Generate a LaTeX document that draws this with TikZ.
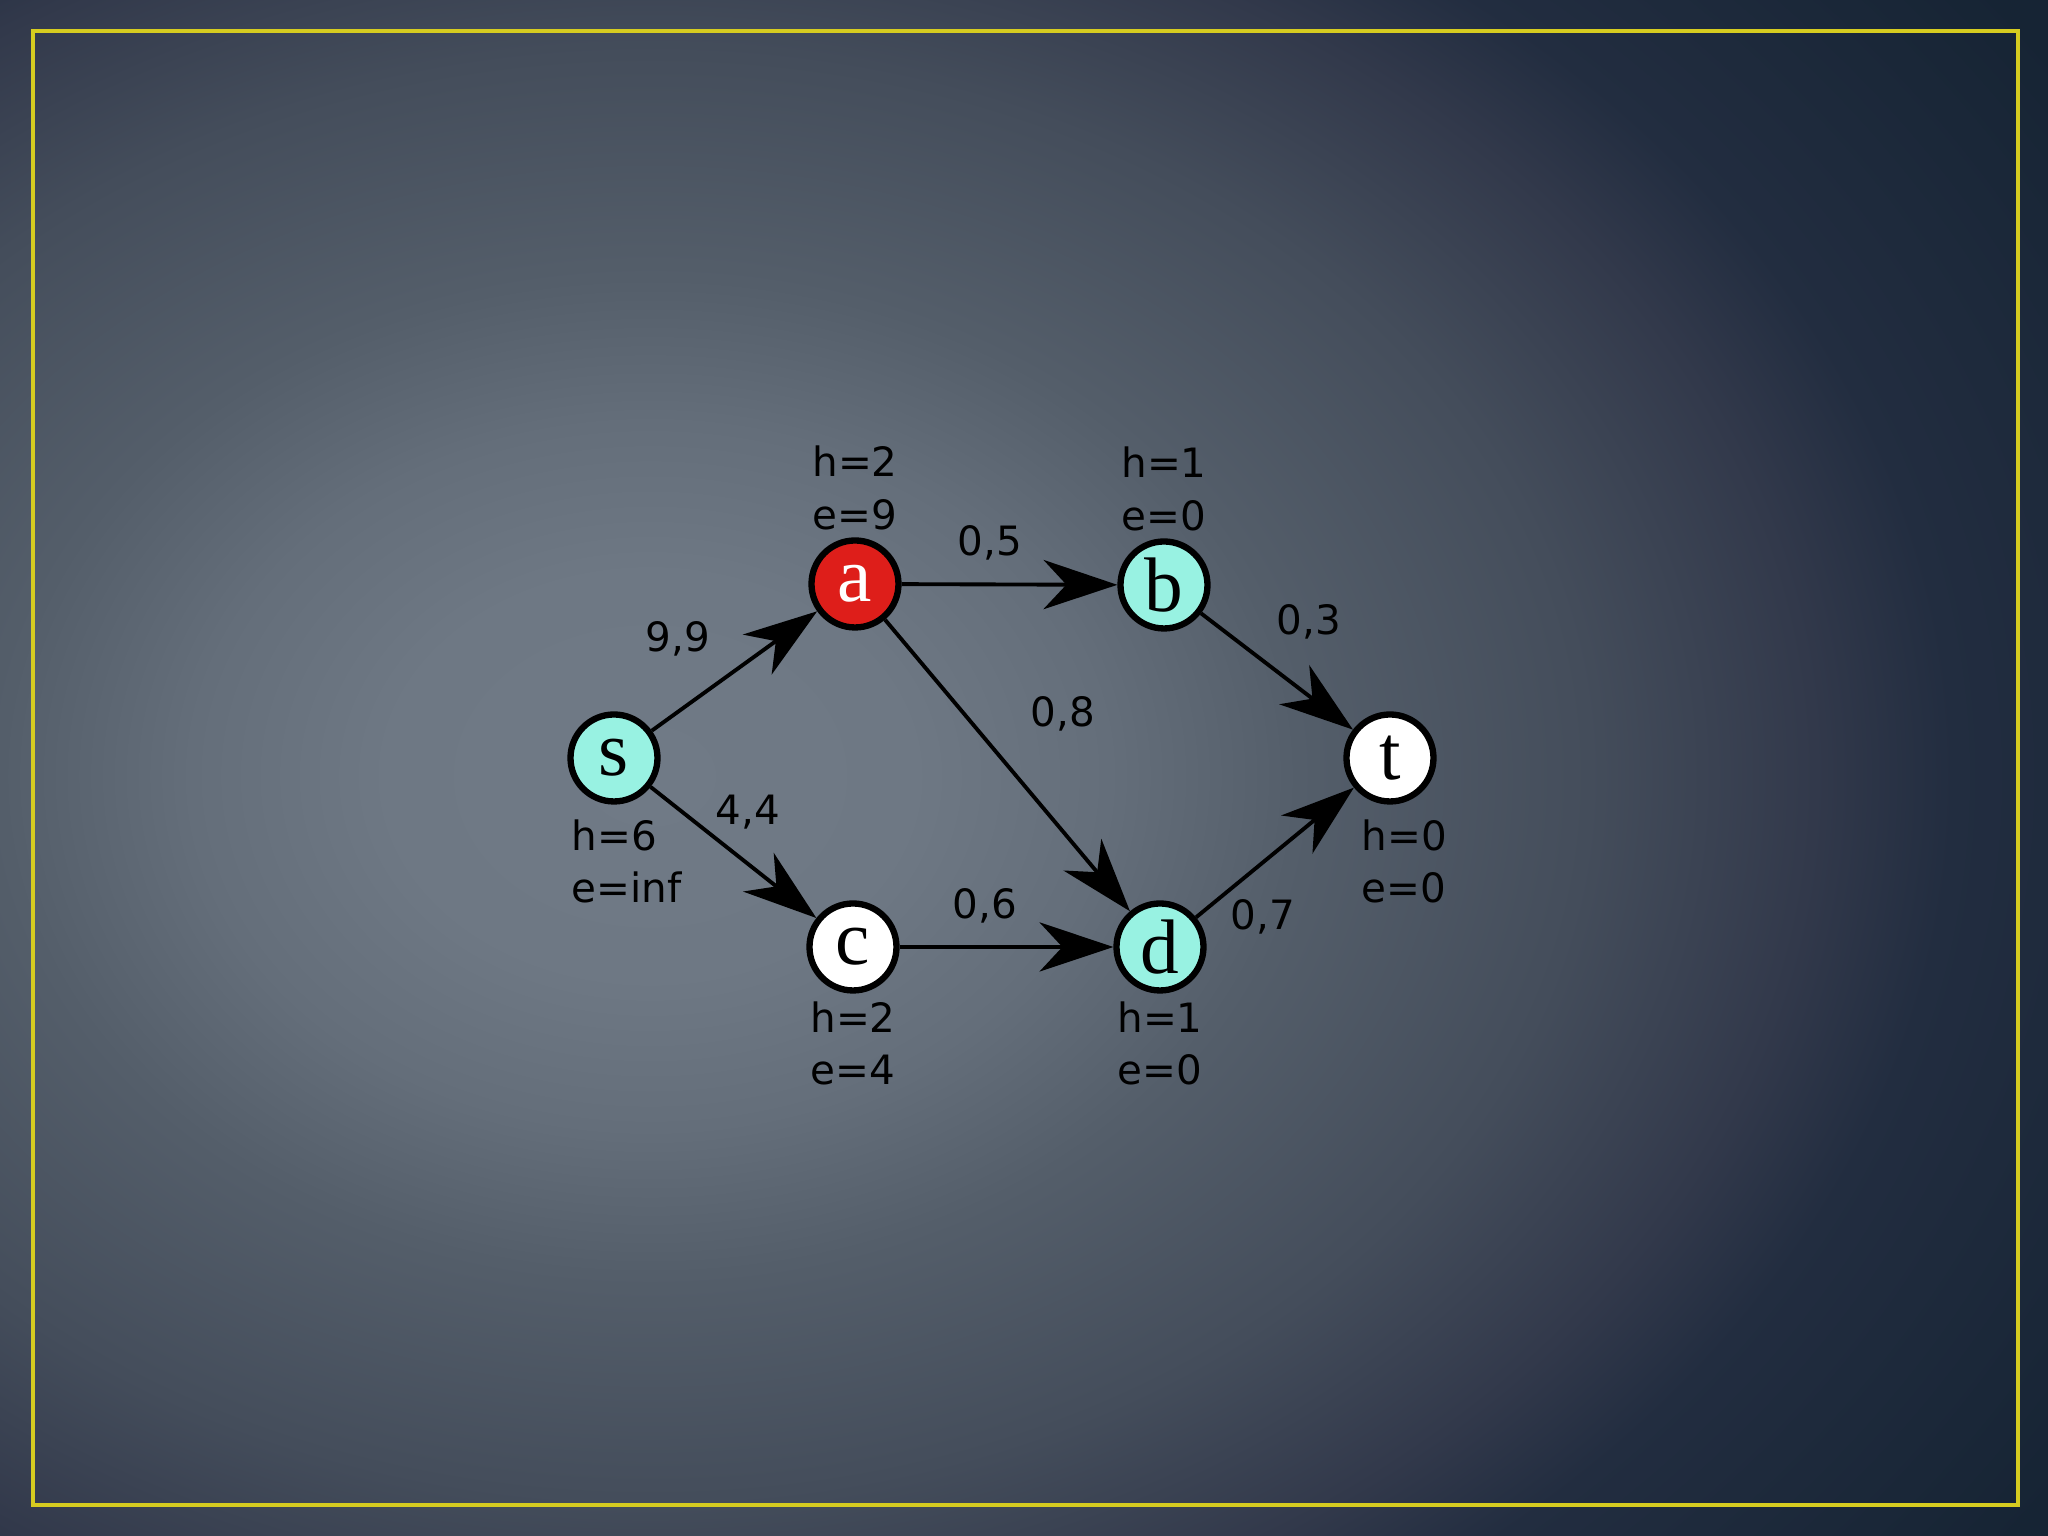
\documentclass[tikz,border=0pt]{standalone}
\usepackage{fontspec}
\setmainfont{DejaVu Sans}
\newfontfamily\letterfont{Liberation Serif}
\usetikzlibrary{arrows.meta,positioning}

\definecolor{bg0}{RGB}{112,122,134}
\definecolor{bg1}{RGB}{110,120,132}
\definecolor{bg2}{RGB}{100,110,122}
\definecolor{bg3}{RGB}{84,94,106}
\definecolor{bg4}{RGB}{68,77,91}
\definecolor{bg5}{RGB}{50,57,75}
\definecolor{bg6}{RGB}{34,45,64}
\definecolor{bg7}{RGB}{22,36,52}
\definecolor{frameyellow}{RGB}{214,204,32}
\definecolor{vcyan}{RGB}{152,242,226}
\definecolor{vred}{RGB}{222,30,26}

\pgfdeclareradialshading{slidebg}{\pgfpoint{0bp}{0bp}}{color(0bp)=(bg0); color(3.6bp)=(bg1); color(6.3bp)=(bg2); color(8.9bp)=(bg3); color(12.9bp)=(bg4); color(16bp)=(bg5); color(17.9bp)=(bg6); color(23.2bp)=(bg7); color(50bp)=(bg7)}

\begin{document}
\begin{tikzpicture}[
	vertex/.style={circle,draw=black,line width=1.8pt,minimum size=0.87cm,inner sep=0pt,font=\letterfont\fontsize{22}{22}\selectfont},
	info/.style={align=center,inner sep=2pt,font=\fontsize{11.5}{15}\selectfont},
	weight/.style={font=\fontsize{11.5}{13}\selectfont},
	flow/.style={line width=1.1pt,-{Stealth[length=21pt,width=14pt,inset=6.5pt]}}
	]

	\fill[bg7] (0,0) rectangle (20.48,15.36);
	\begin{scope}
		\clip (0,0) rectangle (20.48,15.36);
		\shade[shading=slidebg] (6.5,7.6) ellipse (18.2 and 14);
	\end{scope}
	\draw[frameyellow,line width=1.2pt] (0.33,0.31) rectangle (20.18,15.05);

	\node[vertex,fill=vcyan] (s) at (6.14,7.78) {s};
	\node[vertex,fill=vred,text=white] (a) at (8.55,9.52) {a};
	\node[vertex,fill=vcyan] (b) at (11.64,9.51) {b};
	\node[vertex,fill=white] (t) at (13.90,7.78) {t};
	\node[vertex,fill=white] (c) at (8.53,5.89) {c};
	\node[vertex,fill=vcyan] (d) at (11.60,5.89) {d};

	\node[info,above=0pt of a] (la) {h=2\\e=9};
	\node[info,above=0pt of b] (lb) {h=1\\e=0};
	\node[info,below=0pt of c] (lc) {h=2\\e=4};
	\node[info,below=0pt of d] (ld) {h=1\\e=0};
	\node[info,align=left,anchor=north west,xshift=-1pt,yshift=-2pt] (ls) at (s.west |- s.south) {h=6\\e=inf};
	\node[info,align=left,anchor=north west,xshift=3pt,yshift=-2pt] (lt) at (t.west |- t.south) {h=0\\e=0};

	\node[weight] (wsa) at (6.78,8.97) {9,9};
	\node[weight] (wsc) at (7.48,7.24) {4,4};
	\node[weight] (wab) at (9.90,9.93) {0,5};
	\node[weight] (wad) at (10.63,8.22) {0,8};
	\node[weight] (wbt) at (13.09,9.14) {0,3};
	\node[weight] (wcd) at (9.85,6.30) {0,6};
	\node[weight] (wdt) at (12.63,6.19) {0,7};

	\draw[flow] (s) -- (a);
	\draw[flow] (s) -- (c);
	\draw[flow] (a) -- (b);
	\draw[flow] (a) -- (d);
	\draw[flow] (b) -- (t);
	\draw[flow] (c) -- (d);
	\draw[flow] (d) -- (t);

\end{tikzpicture}
\end{document}
